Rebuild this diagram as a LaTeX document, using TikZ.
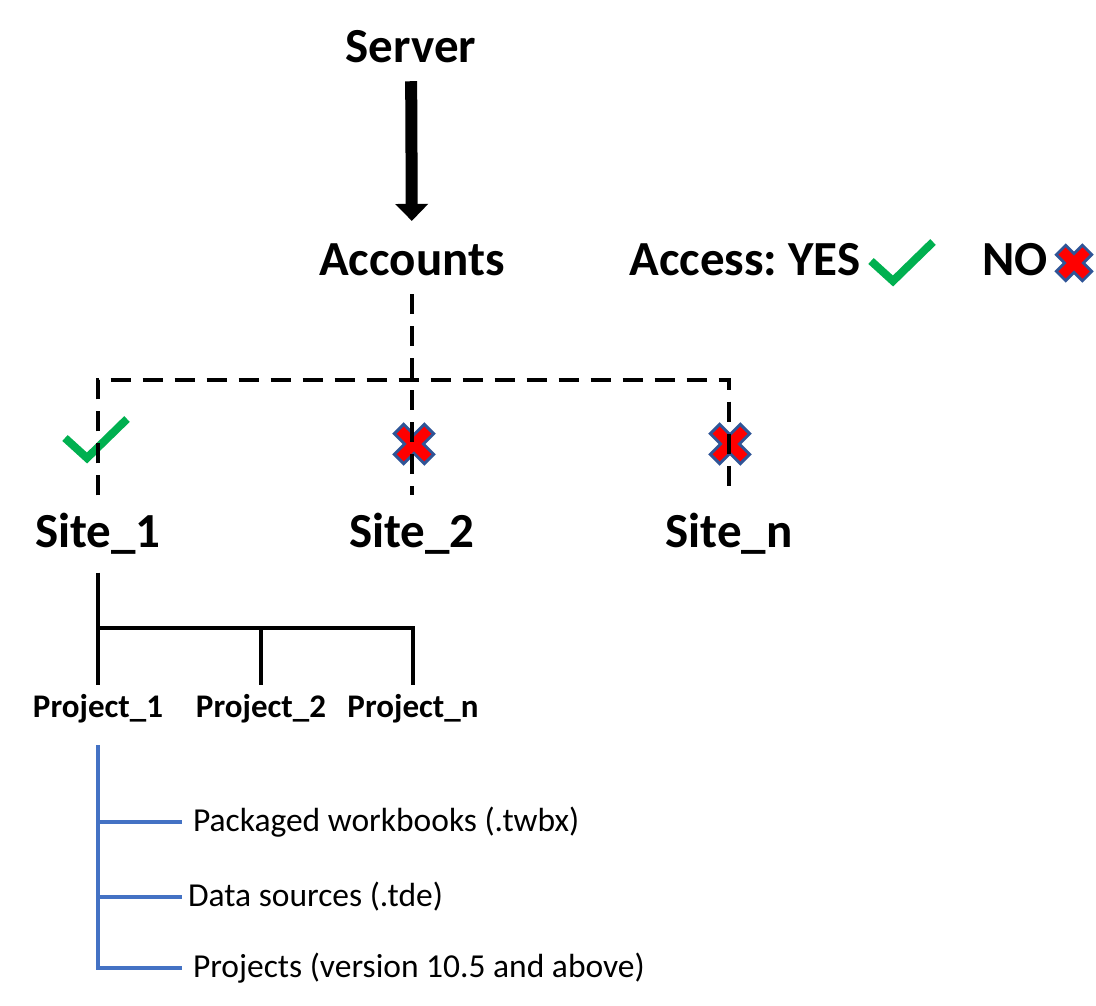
\documentclass[tikz,border=0pt]{standalone}
\usepackage{fontspec}
\setmainfont{Carlito}
\usepackage{xcolor}
\usetikzlibrary{arrows.meta,positioning}
\definecolor{okgreen}{HTML}{00B050}
\definecolor{nored}{HTML}{FF0000}
\definecolor{noblue}{HTML}{2F5597}
\definecolor{itemblue}{HTML}{4472C4}
\frenchspacing
\tikzset{>=stealth,
	title/.style={% big bold labels: server, accounts, sites, legend
		font=\fontsize{49}{58}\selectfont\bfseries,
		inner xsep=2pt,
		inner ysep=18pt,
		outer sep=0pt
	},
	project/.style={
		font=\fontsize{33}{39}\selectfont\bfseries,
		inner xsep=2pt,
		inner ysep=10pt,
		outer sep=0pt
	},
	item/.style={
		font=\fontsize{33.5}{40}\selectfont,
		anchor=west,
		inner xsep=6pt,
		outer sep=0pt
	},
	dashline/.style={draw, line width=4pt, dash pattern=on 20pt off 12pt},
	treeline/.style={draw, line width=4pt},
	blueline/.style={draw=itemblue, line width=4pt},
	yesmark/.pic={
		\draw [okgreen, line width=8pt, miter limit=10] (-22,-20) -- (0,0) -- (40,-39);
	},
	nomark/.pic={
		\draw [noblue, line width=16pt] (-14,-14) -- (14,14) (-14,14) -- (14,-14);
		\draw [nored, line width=10pt] (-12,-12) -- (12,12) (-12,12) -- (12,-12);
	}
}
\begin{document}
\begin{tikzpicture}[x=1pt, y=-1pt]
	\useasboundingbox (0,0) rectangle (1096,1006);
	\node [title] (server) at (411,47) {Server};
	\node [title] (accounts) at (412,260) {Accounts};
	\node [title] (access) at (745,260) {Access: YES};
	\node [title] (no) at (1015,260) {NO};
	\node [title] (site1) at (98,534) {Site\_1};
	\node [title] (site2) at (412,534) {Site\_2};
	\node [title] (siten) at (729,534) {Site\_n};
	\node [project] (proj1) at (98,709) {Project\_1};
	\node [project] (proj2) at (261,709) {Project\_2};
	\node [project] (projn) at (413,709) {Project\_n};
	\node [item, inner xsep=11pt] (item1) at (182,822) {Packaged workbooks (.twbx)};
	\node [item] (item2) at (182,897) {Data sources (.tde)};
	\node [item, inner xsep=11pt] (item3) at (182,968) {Projects (version 10.5 and above)};
	\coordinate (bar) at (412,380);
	\coordinate (fork) at (98,628);
	% access marks
	\pic at (893,281) {yesmark};
	\pic at (1074,263) {nomark};
	\pic at (87,458) {yesmark};
	\pic [scale=1.15] at (414,444) {nomark};
	\pic [scale=1.15] at (730,444) {nomark};
	% connectors
	\draw [line width=12pt, -{Triangle[width=32pt, length=17pt]}, shorten >=5pt] (server) -- (accounts);
	\draw [dashline] (accounts) -- (site2);
	\draw [dashline] (site1) |- (bar) -| (siten);
	\draw [treeline] (site1) -- (proj1);
	\draw [treeline] (fork) -| (projn);
	\draw [treeline] (fork -| proj2) -- (proj2);
	\draw [blueline, shorten <=12pt] (proj1) |- (item3);
	\draw [blueline] (proj1 |- item1) -- (item1);
	\draw [blueline] (proj1 |- item2) -- (item2);
\end{tikzpicture}
\end{document}
